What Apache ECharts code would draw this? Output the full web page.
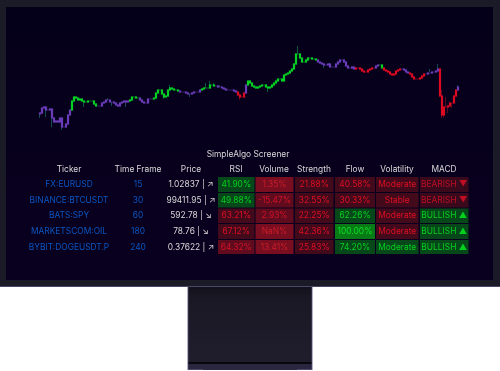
<!DOCTYPE html>
<html><head><meta charset="utf-8">
<style>html,body{margin:0;padding:0;background:#fff}#c{width:500px;height:371px;filter:blur(0.2px)}</style>
<script src="https://cdn.jsdelivr.net/npm/echarts@6/dist/echarts.min.js"></script>
</head><body><div id="c"></div>
<script>
const closes = [27,32,33,30,30,31,22,18,19,18,22,13,13,16,25,30,39,43,42,40,41,39,38,38,39,39,39,36,34,34,34,37,38,40,40,38,38,37,35,34,37,38,39,38,39,40,43,43,42,42,40,38,37,37,41,41,41,42,47,50,50,46,43,44,50,
52,51,50,50,49,48,48,48,47,46,46,47,48,48,48,50,51,52,52,52,55,55,54,54,53,53,52,51,50,50,50,50,49,48,45,43,43,47,55,59,57,54,53,52,53,54,55,55,53,52,53,55,57,59,61,61,59,65,66,67,69,71,76,86,86,82,78,78,80,82,82,81,81,80,78,77,76,75,75,76,
73,73,73,76,78,80,80,78,74,72,72,73,71,72,72,71,69,68,68,70,71,72,72,74,75,75,72,70,69,68,66,65,66,69,70,71,71,70,68,67,66,63,61,61,61,62,64,66,66,67,67,68,68,69,71,44,25,33,33,34,37,37,44,50,53];
const opens = [26,27,32,33,30,30,31,22,18,19,18,22,13,13,16,25,30,39,43,42,40,41,39,38,38,39,39,39,36,34,34,34,37,38,40,40,38,38,37,35,34,37,38,39,38,39,40,43,43,42,42,40,38,37,37,41,41,41,42,47,50,50,46,43,44,
50,52,51,50,50,49,48,48,48,47,46,46,47,48,48,48,50,51,52,52,52,55,55,54,54,53,53,52,51,50,50,50,50,49,48,45,43,43,47,55,59,57,54,53,52,53,54,55,55,53,52,53,55,57,59,61,61,59,65,66,67,69,71,76,86,86,82,78,78,80,82,82,81,81,80,78,77,76,75,75,
76,73,73,73,76,78,80,80,78,74,72,72,73,71,72,72,71,69,68,68,70,71,72,72,74,75,75,72,70,69,68,66,65,66,69,70,71,71,70,68,67,66,63,61,61,61,62,64,66,66,67,67,68,68,69,71,44,25,33,33,34,37,37,44,50];
// sparse shadows: candle index, high, low
const shadows = [[0,27,22],[3,33,23],[6,31,13],[11,22,10],[22,38,33],[34,42,40],[36,38,34],[43,39,33],[62,46,41],[65,55,52],[75,46,43],[83,57,52],[85,59,55],[87,57,54],[90,55,53],[100,43,40],[114,53,48],[129,94,86],[142,76,72],[145,77,73],[195,71,68],[199,76,71],[201,50,22],[202,33,22],[203,43,33],[204,34,27],[206,37,32],[208,47,44],[209,55,53]];
const regimeRuns = [['n',16],['g',13],['n',16],['g',5],['n',7],['g',8],['g',5],['n',11],['g',7],['n',11],['r',4],['n',1],['g',35],['n',6],['n',13],['r',10],['n',2],['g',2],['r',9],['n',4],['r',8],['n',7],['r',9],['n',1]];

const title = 'SimpleAlgo Screener';
const headers = ['Ticker','Time Frame','Price','RSI','Volume','Strength','Flow','Volatility','MACD'];
const tickers = ['FX:EURUSD','BINANCE:BTCUSDT','BATS:SPY','MARKETSCOM:OIL','BYBIT:DOGEUSDT.P'];
const timeFrames = ['15','30','60','180','240'];
const prices = ['1.02837 | ↗','99411.95 | ↗','592.78 | ↘','78.76 | ↘','0.37622 | ↗'];
const rsi = ['41.90%','49.88%','63.21%','67.12%','64.32%'];
const volume = ['1.35%','-15.47%','2.93%','NaN%','13.41%'];
const strength = ['21.88%','32.55%','22.25%','42.36%','25.83%'];
const flow = ['40.58%','30.33%','62.26%','100.00%','74.20%'];
const volatility = ['Moderate','Stable','Moderate','Moderate','Moderate'];
const macd = ['BEARISH ▼','BEARISH ▼','BULLISH ▲','BULLISH ▲','BULLISH ▲'];
// cell tone per column: g/r = bull/bear, number = strength level
const rsiTone = ['g2','g2','r2','r2','r3'];
const volumeTone = ['r4','r3','r3','r4','r4'];
const strengthTone = ['r2','r2','r2','r2','r2'];
const flowTone = ['r2','r2','g2','g4','g2'];
const volatilityTone = ['r2','r2','r2','r2','g2'];
const macdTone = ['r1','r1','g2','g2','g2'];

const FONT = 'Inter, "Noto Sans", sans-serif';
const regimes = regimeRuns.flatMap(([k,n]) => Array(n).fill(k));
const bodyColor = {g:'#05d024', n:'#6a3cb8', r:'#dc0a20'};
const wickColor = {g:'#0a5a40', n:'#124a50', r:'#5a0a22'};
const toneBg = {g2:'#07481a', g4:'#087a16', r1:'#3a0a1c', r2:'#420a1a', r3:'#600c1e', r4:'#780e20'};
const toneFg = {g2:'#04d01e', g4:'#0ae024', r1:'#c00e24', r2:'#e00e24', r3:'#d41026', r4:'#cc1c2a'};

const cats = closes.map((_, i) => i);
const bodyData = closes.map((c, i) => ({
  value: [opens[i], c, Math.min(opens[i], c), Math.max(opens[i], c)],
  itemStyle: {color: bodyColor[regimes[i]], color0: bodyColor[regimes[i]], borderColor: bodyColor[regimes[i]], borderColor0: bodyColor[regimes[i]]}
}));
const wickData = closes.map(() => '-');
shadows.forEach(([i,h,l]) => {
  const col = wickColor[regimes[i]];
  wickData[i] = {value: [l, h, l, h], itemStyle: {color: col, color0: col, borderColor: col, borderColor0: col}};
});

// screen furniture
const g = [];
const rect = (x,y,w,h,fill,z=0,r=0) => g.push({type:'rect', z, silent:true, shape:{x,y,width:w,height:h,r}, style:{fill}});
const vgrad = (stops) => new echarts.graphic.LinearGradient(0,0,0,1,stops.map(([offset,color])=>({offset,color})));
const SIZE = 8.4;
const text = (x,y,t,fill,size=SIZE,weight=400) => g.push({type:'text', z:5, silent:true, x, y, style:{text:t, x:0, y:0, fill, font:`${weight} ${size}px ${FONT}`, align:'center', verticalAlign:'middle'}});

// stand
rect(188,286,124,76,vgrad([[0,'#12101a'],[0.15,'#1a1824'],[1,'#201d2d']]),1);
rect(188,362,124,2,'#08070e',1);
rect(188,364,124,6,'#2a2640',1);
rect(188,369,15,1,'#4a4568',1); rect(297,369,15,1,'#4a4568',1);
rect(187.5,286,0.8,84,'#6d678f',2); rect(311.7,286,0.8,84,'#6d678f',2);
// monitor
rect(0,0,500,287,'#1b1b27',3);
rect(0,286,500,1,'#4b4668',3);
rect(6,7,487,273,vgrad([[0,'#05001a'],[1,'#09001f']]),4);

text(248,154,title,'#d8d8d8');
const colX = [69,138,191];
const colEdges = [[218,254.5],[255.5,293.5],[295,333.5],[335,375],[376,418.5],[420,468.5]];
const rowEdges = [[177,192],[193,207.5],[208.5,223],[224,239],[240,254]];
const headerX = [69,138,191,236,274,314,355,397,444];
headers.forEach((h,i)=>text(headerX[i],169,h,'#d8d8d8'));
const cols = [[rsi,rsiTone],[volume,volumeTone],[strength,strengthTone],[flow,flowTone],[volatility,volatilityTone],[macd,macdTone]];
rowEdges.forEach(([y0,y1],r)=>{
  const yc=(y0+y1)/2;
  text(colX[0],yc,tickers[r],'#0c55c0');
  text(colX[1],yc,timeFrames[r],'#0c55c0');
  text(colX[2],yc,prices[r],'#d8d8d8');
  cols.forEach(([vals,tones],c)=>{
    const [x0,x1]=colEdges[c], t=tones[r];
    rect(x0,y0,x1-x0,y1-y0,toneBg[t],5);
    g.push({type:'text', z:6, silent:true, x:(x0+x1)/2, y:yc, style:{text:vals[r], x:0, y:0, fill:toneFg[t], font:`400 ${SIZE}px ${FONT}`, align:'center', verticalAlign:'middle'}});
  });
});

const chart = echarts.init(document.getElementById('c'), null, {renderer:'canvas'});
chart.setOption({
  animation:false,
  backgroundColor:'#ffffff',
  graphic:{elements:g},
  grid:{left:39, top:30, width:420, height:110, z:10},
  xAxis:{type:'category', data:cats, show:false, boundaryGap:true},
  yAxis:{type:'value', min:0, max:110, show:false, scale:false},
  series:[
    {name:'shadow', type:'candlestick', z:10, barWidth:1, silent:true, data:wickData, itemStyle:{borderWidth:1}},
    {name:'price', type:'candlestick', z:11, barWidth:2, silent:true, data:bodyData, itemStyle:{borderWidth:1.2}}
  ]
});
</script></body></html>
